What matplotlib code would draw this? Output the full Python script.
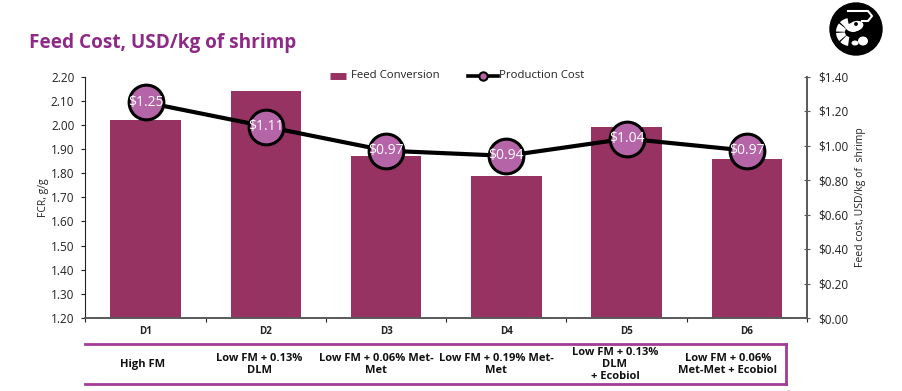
import matplotlib
matplotlib.use('Agg')
import matplotlib.pyplot as plt
from matplotlib.patches import Circle, Wedge, Ellipse
from matplotlib.lines import Line2D

plt.rcParams['font.family'] = ['Open Sans', 'DejaVu Sans']

diets = ['D1', 'D2', 'D3', 'D4', 'D5', 'D6']
descriptions = ['High FM', 'Low FM + 0.13%\nDLM', 'Low FM + 0.06% Met-\nMet',
                'Low FM + 0.19% Met-\nMet', 'Low FM + 0.13%\nDLM\n+ Ecobiol',
                'Low FM + 0.06%\nMet-Met + Ecobiol']
fcr = [2.02, 2.14, 1.87, 1.79, 1.99, 1.86]
cost = [1.25, 1.11, 0.97, 0.94, 1.04, 0.97]
fcr_ticks = [1.2, 1.3, 1.4, 1.5, 1.6, 1.7, 1.8, 1.9, 2.0, 2.1, 2.2]
cost_ticks = [0, 0.2, 0.4, 0.6, 0.8, 1.0, 1.2, 1.4]

W, H = 903, 391
BAR = '#963362'
PURPLE = '#8E2A86'
DOT = '#B565A7'
GREY = '#595959'

fig = plt.figure(figsize=(W / 100, H / 100), dpi=100)

# axes in pixels
left, right, top, bottom = 85.5, 807, 76.5, 318
ax = fig.add_axes([left / W, 1 - bottom / H, (right - left) / W, (bottom - top) / H])
x = list(range(len(diets)))
ax.bar(x, fcr, width=0.585, color=BAR, label='Feed Conversion', zorder=2)
ax.set_xlim(-0.5, 5.5)
ax.set_ylim(1.2, 2.2)
ax.set_yticks(fcr_ticks)
ax.set_yticklabels(['%.2f' % t for t in fcr_ticks], fontsize=8.5, color='#222222')
ax.set_xticks([i + 0.5 for i in range(-1, 6)])
ax.set_xticklabels([])
ax.tick_params(axis='x', length=3, width=0.8, color='#222222', direction='out')
ax.tick_params(axis='y', length=3, width=0.8, color='#222222', pad=5)
ax.set_ylabel('FCR, g/g', fontsize=7.5, color='#222222', labelpad=1)
ax.spines['top'].set_visible(False)
ax.spines['right'].set_visible(False)
ax.spines['bottom'].set_color(GREY)
ax.spines['bottom'].set_linewidth(1.4)
ax.spines['left'].set_color('#222222')

ax2 = ax.twinx()
ax2.plot(x, cost, color='black', lw=3, marker='o', ms=25, mfc=DOT, mec='black', mew=2.2,
         label='Production Cost', zorder=3, clip_on=False)
ax2.set_ylim(0, 1.4)
ax2.set_yticks(cost_ticks)
ax2.set_yticklabels(['$%.2f' % t for t in cost_ticks], fontsize=8.5, color='#222222')
ax2.tick_params(axis='y', length=4, width=0.8, color=GREY, direction='inout', pad=6)
ax2.set_ylabel('Feed cost, USD/kg of  shrimp', fontsize=7.5, color='#222222', labelpad=5)
ax2.spines['top'].set_visible(False)
ax2.spines['left'].set_visible(False)
ax2.spines['bottom'].set_visible(False)
ax2.spines['right'].set_color(GREY)
ax2.spines['right'].set_linewidth(1.4)
for i, c in zip(x, cost):
    ax2.text(i, c, '$%.2f' % c, ha='center', va='center', color='white', fontsize=10, zorder=5)

# legend built by hand to sit at the top of the axes
fig.add_artist(Line2D([330 / W, 346 / W], [1 - 75.5 / H] * 2, color=BAR, lw=5, solid_capstyle='butt'))
fig.text(351 / W, 1 - 75.5 / H, 'Feed Conversion', fontsize=8.2, va='center', color='#222222')
fig.add_artist(Line2D([468 / W, 498 / W], [1 - 75.5 / H] * 2, color='black', lw=2.6))
fig.add_artist(Line2D([483 / W], [1 - 75.5 / H], marker='o', ms=6, mfc=DOT, mec='black', mew=1.5))
fig.text(499 / W, 1 - 75.5 / H, 'Production Cost', fontsize=8.2, va='center', color='#222222')

fig.text(29 / W, 1 - 43 / H, 'Feed Cost, USD/kg of shrimp', fontsize=13.7, fontweight='bold',
         color=PURPLE, va='center')

# diet labels and description table
step = (right - left) / 6
for i, d in enumerate(diets):
    fig.text((left + step * (i + 0.5)) / W, 1 - 332 / H, d, fontsize=7, fontweight='bold',
             ha='center', va='center', color='#222222')
desc_x = [143, 259, 376, 496, 615, 728]
for px, t in zip(desc_x, descriptions):
    fig.text(px / W, 1 - 364.5 / H, t, fontsize=8, fontweight='bold', ha='center', va='center',
             color='#111111', linespacing=1.12)
box = '#A03C98'
for yy in (343.5, 384):
    fig.add_artist(Line2D([85 / W, 786 / W], [1 - yy / H] * 2, color=box, lw=2))
fig.add_artist(Line2D([785.5 / W] * 2, [1 - 343.5 / H, 1 - 384 / H], color=box, lw=2))
# edge of a circle cut off by the bottom of the picture
fig.add_artist(Line2D([788 / W], [1 - 394.5 / H], marker='o', ms=6, mfc='white', mec=box, mew=1))

# shrimp logo
logo = fig.add_axes([826 / W, 1 - 59 / H, 60 / W, 60 / H])
logo.set_xlim(-30, 30)
logo.set_ylim(-30, 30)
logo.axis('off')
logo.add_patch(Circle((0, 0), 26, color='black'))
for a in (100, 142, 184, 226):
    logo.add_patch(Wedge((-6, -3), 14, a, a + 36, width=9, color='white', lw=0))
logo.add_patch(Wedge((-3, 6), 9, 190, 360, color='white', lw=0))
logo.add_patch(Ellipse((0, 3), 15, 10, angle=15, color='white', lw=0))
logo.add_patch(Circle((0, 5), 1.2, color='black'))
logo.plot([-8, 12, 16, 12, 6], [18, 18, 13, 8, 8], color='white', lw=1.5)
logo.add_patch(Ellipse((7, -12), 10, 9, color='white', lw=0))
logo.add_patch(Ellipse((-1, -14), 7, 5, color='white', lw=0))

fig.savefig('out.png', dpi=100)
